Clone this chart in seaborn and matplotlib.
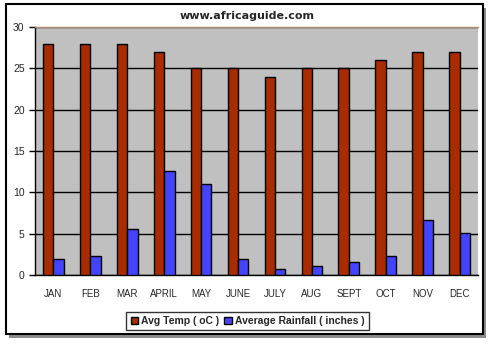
import matplotlib
matplotlib.use("Agg")
import matplotlib.pyplot as plt
import pandas as pd
import seaborn as sns
from matplotlib.patches import Rectangle

months = ["JAN", "FEB", "MAR", "APRIL", "MAY", "JUNE", "JULY", "AUG", "SEPT", "OCT", "NOV", "DEC"]
avg_temp = [28, 28, 28, 27, 25, 25, 24, 25, 25, 26, 27, 27]
avg_rain = [1.9, 2.3, 5.6, 12.6, 11.0, 1.9, 0.7, 1.1, 1.6, 2.3, 6.7, 5.1]
series = ["Avg Temp ( oC )", "Average Rainfall ( inches )"]
colors = ["#A82C00", "#4444FF"]

df = pd.DataFrame({
    "month": months * 2,
    "value": avg_temp + avg_rain,
    "series": [series[0]] * 12 + [series[1]] * 12,
})

sns.set_style("white")
plt.rcParams["font.family"] = ["Liberation Sans", "DejaVu Sans"]

fig = plt.figure(figsize=(4.95, 3.46), dpi=100)
ax = fig.add_axes([35 / 495, 1 - 275 / 346, 443 / 495, 248 / 346])

# outer frame with drop shadow
fig.patches.append(Rectangle((9 / 495, 1 - 338 / 346), 477 / 495, 330 / 346,
                             transform=fig.transFigure, facecolor="#8c8c8c",
                             edgecolor="none", zorder=-2))
fig.patches.append(Rectangle((6 / 495, 1 - 334 / 346), 477 / 495, 330 / 346,
                             transform=fig.transFigure, facecolor="white",
                             edgecolor="black", linewidth=1.5, zorder=-1))

sns.barplot(data=df, x="month", y="value", hue="series", palette=colors,
            saturation=1, width=0.56, edgecolor="black", linewidth=1,
            ax=ax, zorder=3)

ax.set_facecolor("#C0C0C0")
ax.set_ylim(0, 30)
ax.set_xlim(-0.5, 11.5)
ax.set_yticks(range(0, 31, 5))
ax.yaxis.grid(True, color="black", linewidth=1, zorder=0)
ax.set_axisbelow(True)
ax.set_xlabel("")
ax.set_ylabel("")
ax.spines["right"].set_visible(False)
ax.spines["top"].set_color("#B08A70")
ax.spines["top"].set_linewidth(1)
ax.spines["left"].set_color("black")
ax.spines["bottom"].set_color("black")
ax.spines["left"].set_linewidth(1)
ax.spines["bottom"].set_linewidth(1)

ax.set_xticks([i - 0.5 for i in range(13)], minor=True)
ax.tick_params(axis="x", which="major", length=0, labelsize=7, pad=10)
ax.tick_params(axis="x", which="minor", length=4, width=1, color="black", direction="out")
ax.tick_params(axis="y", length=4, width=1, color="black", direction="out", labelsize=7.5, left=True)

fig.text(0.5, 1 - 16 / 346, "www.africaguide.com", ha="center", va="center",
         fontsize=8, fontweight="bold", family="DejaVu Sans")

leg = ax.legend(loc="center", bbox_to_anchor=(0.5, 1 - 321 / 346),
                bbox_transform=fig.transFigure, ncol=2, frameon=True,
                fancybox=False, edgecolor="black", fontsize=7.5,
                handlelength=0.7, handleheight=0.7, handletextpad=0.3,
                columnspacing=0.5, borderpad=0.4)
leg.get_frame().set_linewidth(1)
for t in leg.get_texts():
    t.set_fontweight("bold")

fig.savefig("out.png", dpi=100)
